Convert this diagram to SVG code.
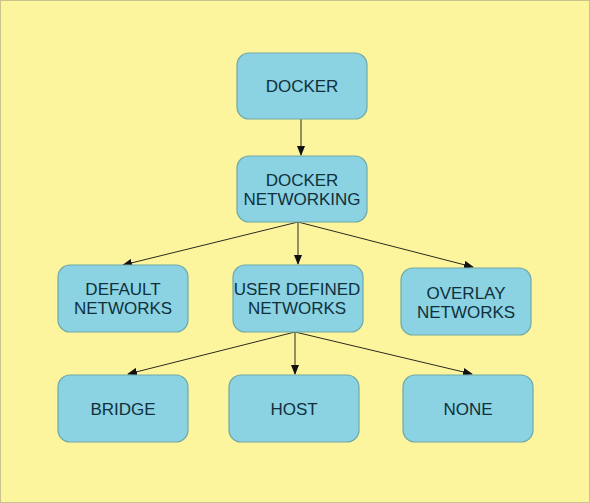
<svg xmlns="http://www.w3.org/2000/svg" width="590" height="503" viewBox="0 0 590 503">
<defs>
<style>
.box{fill:#8BD2E2;stroke:#6FA9A6;stroke-width:1.2}
.t{font-family:"Liberation Sans",Arial,sans-serif;font-size:17px;fill:#10303c;text-anchor:middle}
.c{stroke:#2a2a20;stroke-width:1;fill:none;marker-end:url(#ah)}
</style>
<marker id="ah" markerWidth="10" markerHeight="8" refX="9" refY="4" orient="auto" markerUnits="userSpaceOnUse">
<path d="M0,0 L10,4 L0,8 Z" fill="#111"/>
</marker>
</defs>
<rect x="0.5" y="0.5" width="589" height="502" fill="#FDF49E" stroke="#c9c48e" stroke-width="1"/>
<g id="connectors">
<line class="c" x1="301" y1="119" x2="301" y2="155"/>
<line class="c" x1="298" y1="222" x2="123" y2="265"/>
<line class="c" x1="298" y1="222" x2="298" y2="264"/>
<line class="c" x1="298" y1="222" x2="473" y2="267"/>
<line class="c" x1="295" y1="332" x2="128" y2="374"/>
<line class="c" x1="295" y1="332" x2="295" y2="374"/>
<line class="c" x1="295" y1="332" x2="472" y2="374"/>
</g>
<g id="docker"><rect class="box" x="237" y="53" width="130" height="66" rx="12"/><text class="t" x="302" y="92">DOCKER</text></g>
<g id="docker-networking"><rect class="box" x="237" y="156" width="130" height="66" rx="12"/><text class="t" x="302" y="186">DOCKER</text><text class="t" x="302" y="205">NETWORKING</text></g>
<g id="default-networks"><rect class="box" x="58" y="265" width="130" height="67" rx="12"/><text class="t" x="123" y="295">DEFAULT</text><text class="t" x="123" y="314">NETWORKS</text></g>
<g id="user-defined-networks"><rect class="box" x="233" y="265" width="130" height="67" rx="12"/><text class="t" x="297" y="295">USER DEFINED</text><text class="t" x="297" y="314">NETWORKS</text></g>
<g id="overlay-networks"><rect class="box" x="401" y="268" width="130" height="67" rx="12"/><text class="t" x="466" y="299">OVERLAY</text><text class="t" x="466" y="318">NETWORKS</text></g>
<g id="bridge"><rect class="box" x="58" y="375" width="130" height="67" rx="12"/><text class="t" x="123" y="415">BRIDGE</text></g>
<g id="host"><rect class="box" x="229" y="375" width="130" height="67" rx="12"/><text class="t" x="294" y="415">HOST</text></g>
<g id="none"><rect class="box" x="403" y="375" width="130" height="67" rx="12"/><text class="t" x="468" y="415">NONE</text></g>
</svg>
